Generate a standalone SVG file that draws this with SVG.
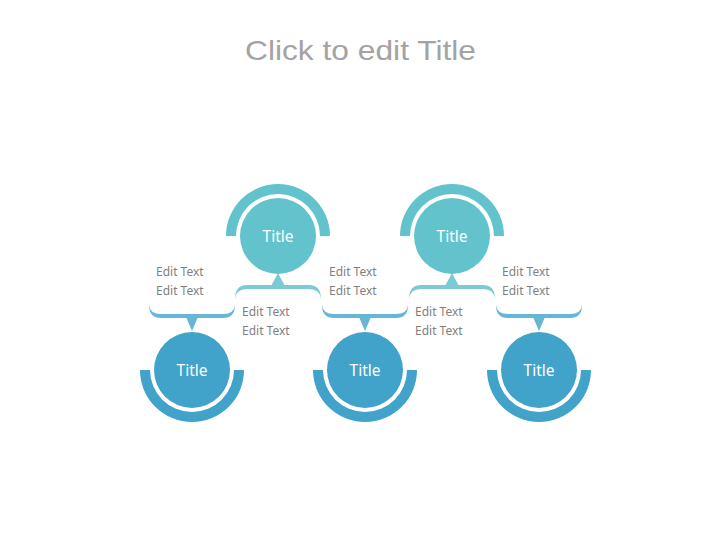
<svg xmlns="http://www.w3.org/2000/svg" width="721" height="540" viewBox="0 0 721 540">
<style>
.title{font-family:"Liberation Sans",Arial,sans-serif;font-size:28px;fill:#A3A3A3}
.lbl{font-family:"Noto Sans","Open Sans",sans-serif;font-size:12px;fill:#7F7F7F}
.ct{font-family:"Noto Sans","Open Sans",sans-serif;font-size:15.5px;fill:#FFFFFF;text-anchor:middle}
.tc{fill:#63C3CD}
.bc{fill:#41A2CA}
.tb{fill:#7CCAD6}
.bb{fill:#67B6D5}
</style>
<rect width="721" height="540" fill="#FFFFFF"/>
<text class="title" x="245" y="59.5" textLength="231" lengthAdjust="spacingAndGlyphs">Click to edit Title</text>
<g id="connectors">
<path class="bb" d="M149,305 Q149,318 161,318 L223,318 Q235,318 235,305 Q234,314 223,314 L161,314 Q150,314 149,305 Z"/>
<path class="bb" d="M186,317 L198,317 L192,331 Z"/>
<path class="bb" d="M322,305 Q322,318 334,318 L396,318 Q408,318 408,305 Q407,314 396,314 L334,314 Q323,314 322,305 Z"/>
<path class="bb" d="M359,317 L371,317 L365,331 Z"/>
<path class="bb" d="M496,305 Q496,318 508,318 L570,318 Q582,318 582,305 Q581,314 570,314 L508,314 Q497,314 496,305 Z"/>
<path class="bb" d="M533,317 L545,317 L539,331 Z"/>
<path class="tb" d="M235,299 Q235,285 247,285 L309,285 Q321,285 321,299 Q320,289 309,289 L247,289 Q236,289 235,299 Z"/>
<path class="tb" d="M271,286 L285,286 L278,273 Z"/>
<path class="tb" d="M409,299 Q409,285 421,285 L483,285 Q495,285 495,299 Q494,289 483,289 L421,289 Q410,289 409,299 Z"/>
<path class="tb" d="M445,286 L459,286 L452,273 Z"/>
</g>
<g id="top1">
<path class="tc" d="M226,236 A52,52 0 0 1 330,236 L320,236 A42,42 0 0 0 236,236 Z"/>
<circle class="tc" cx="278" cy="236" r="38"/>
<text class="ct" x="278" y="241.5">Title</text>
</g>
<g id="top2">
<path class="tc" d="M400,236 A52,52 0 0 1 504,236 L494,236 A42,42 0 0 0 410,236 Z"/>
<circle class="tc" cx="452" cy="236" r="38"/>
<text class="ct" x="452" y="241.5">Title</text>
</g>
<g id="bot1">
<path class="bc" d="M140,370 A52,52 0 0 0 244,370 L234,370 A42,42 0 0 1 150,370 Z"/>
<circle class="bc" cx="192" cy="370" r="38"/>
<text class="ct" x="192" y="375.5">Title</text>
</g>
<g id="bot2">
<path class="bc" d="M313,370 A52,52 0 0 0 417,370 L407,370 A42,42 0 0 1 323,370 Z"/>
<circle class="bc" cx="365" cy="370" r="38"/>
<text class="ct" x="365" y="375.5">Title</text>
</g>
<g id="bot3">
<path class="bc" d="M487,370 A52,52 0 0 0 591,370 L581,370 A42,42 0 0 1 497,370 Z"/>
<circle class="bc" cx="539" cy="370" r="38"/>
<text class="ct" x="539" y="375.5">Title</text>
</g>
<g id="text1"><text class="lbl" x="156" y="275.5">Edit Text</text><text class="lbl" x="156" y="294.5">Edit Text</text></g>
<g id="text2"><text class="lbl" x="242" y="315.5">Edit Text</text><text class="lbl" x="242" y="334.5">Edit Text</text></g>
<g id="text3"><text class="lbl" x="329" y="275.5">Edit Text</text><text class="lbl" x="329" y="294.5">Edit Text</text></g>
<g id="text4"><text class="lbl" x="415" y="315.5">Edit Text</text><text class="lbl" x="415" y="334.5">Edit Text</text></g>
<g id="text5"><text class="lbl" x="502" y="275.5">Edit Text</text><text class="lbl" x="502" y="294.5">Edit Text</text></g>
</svg>
